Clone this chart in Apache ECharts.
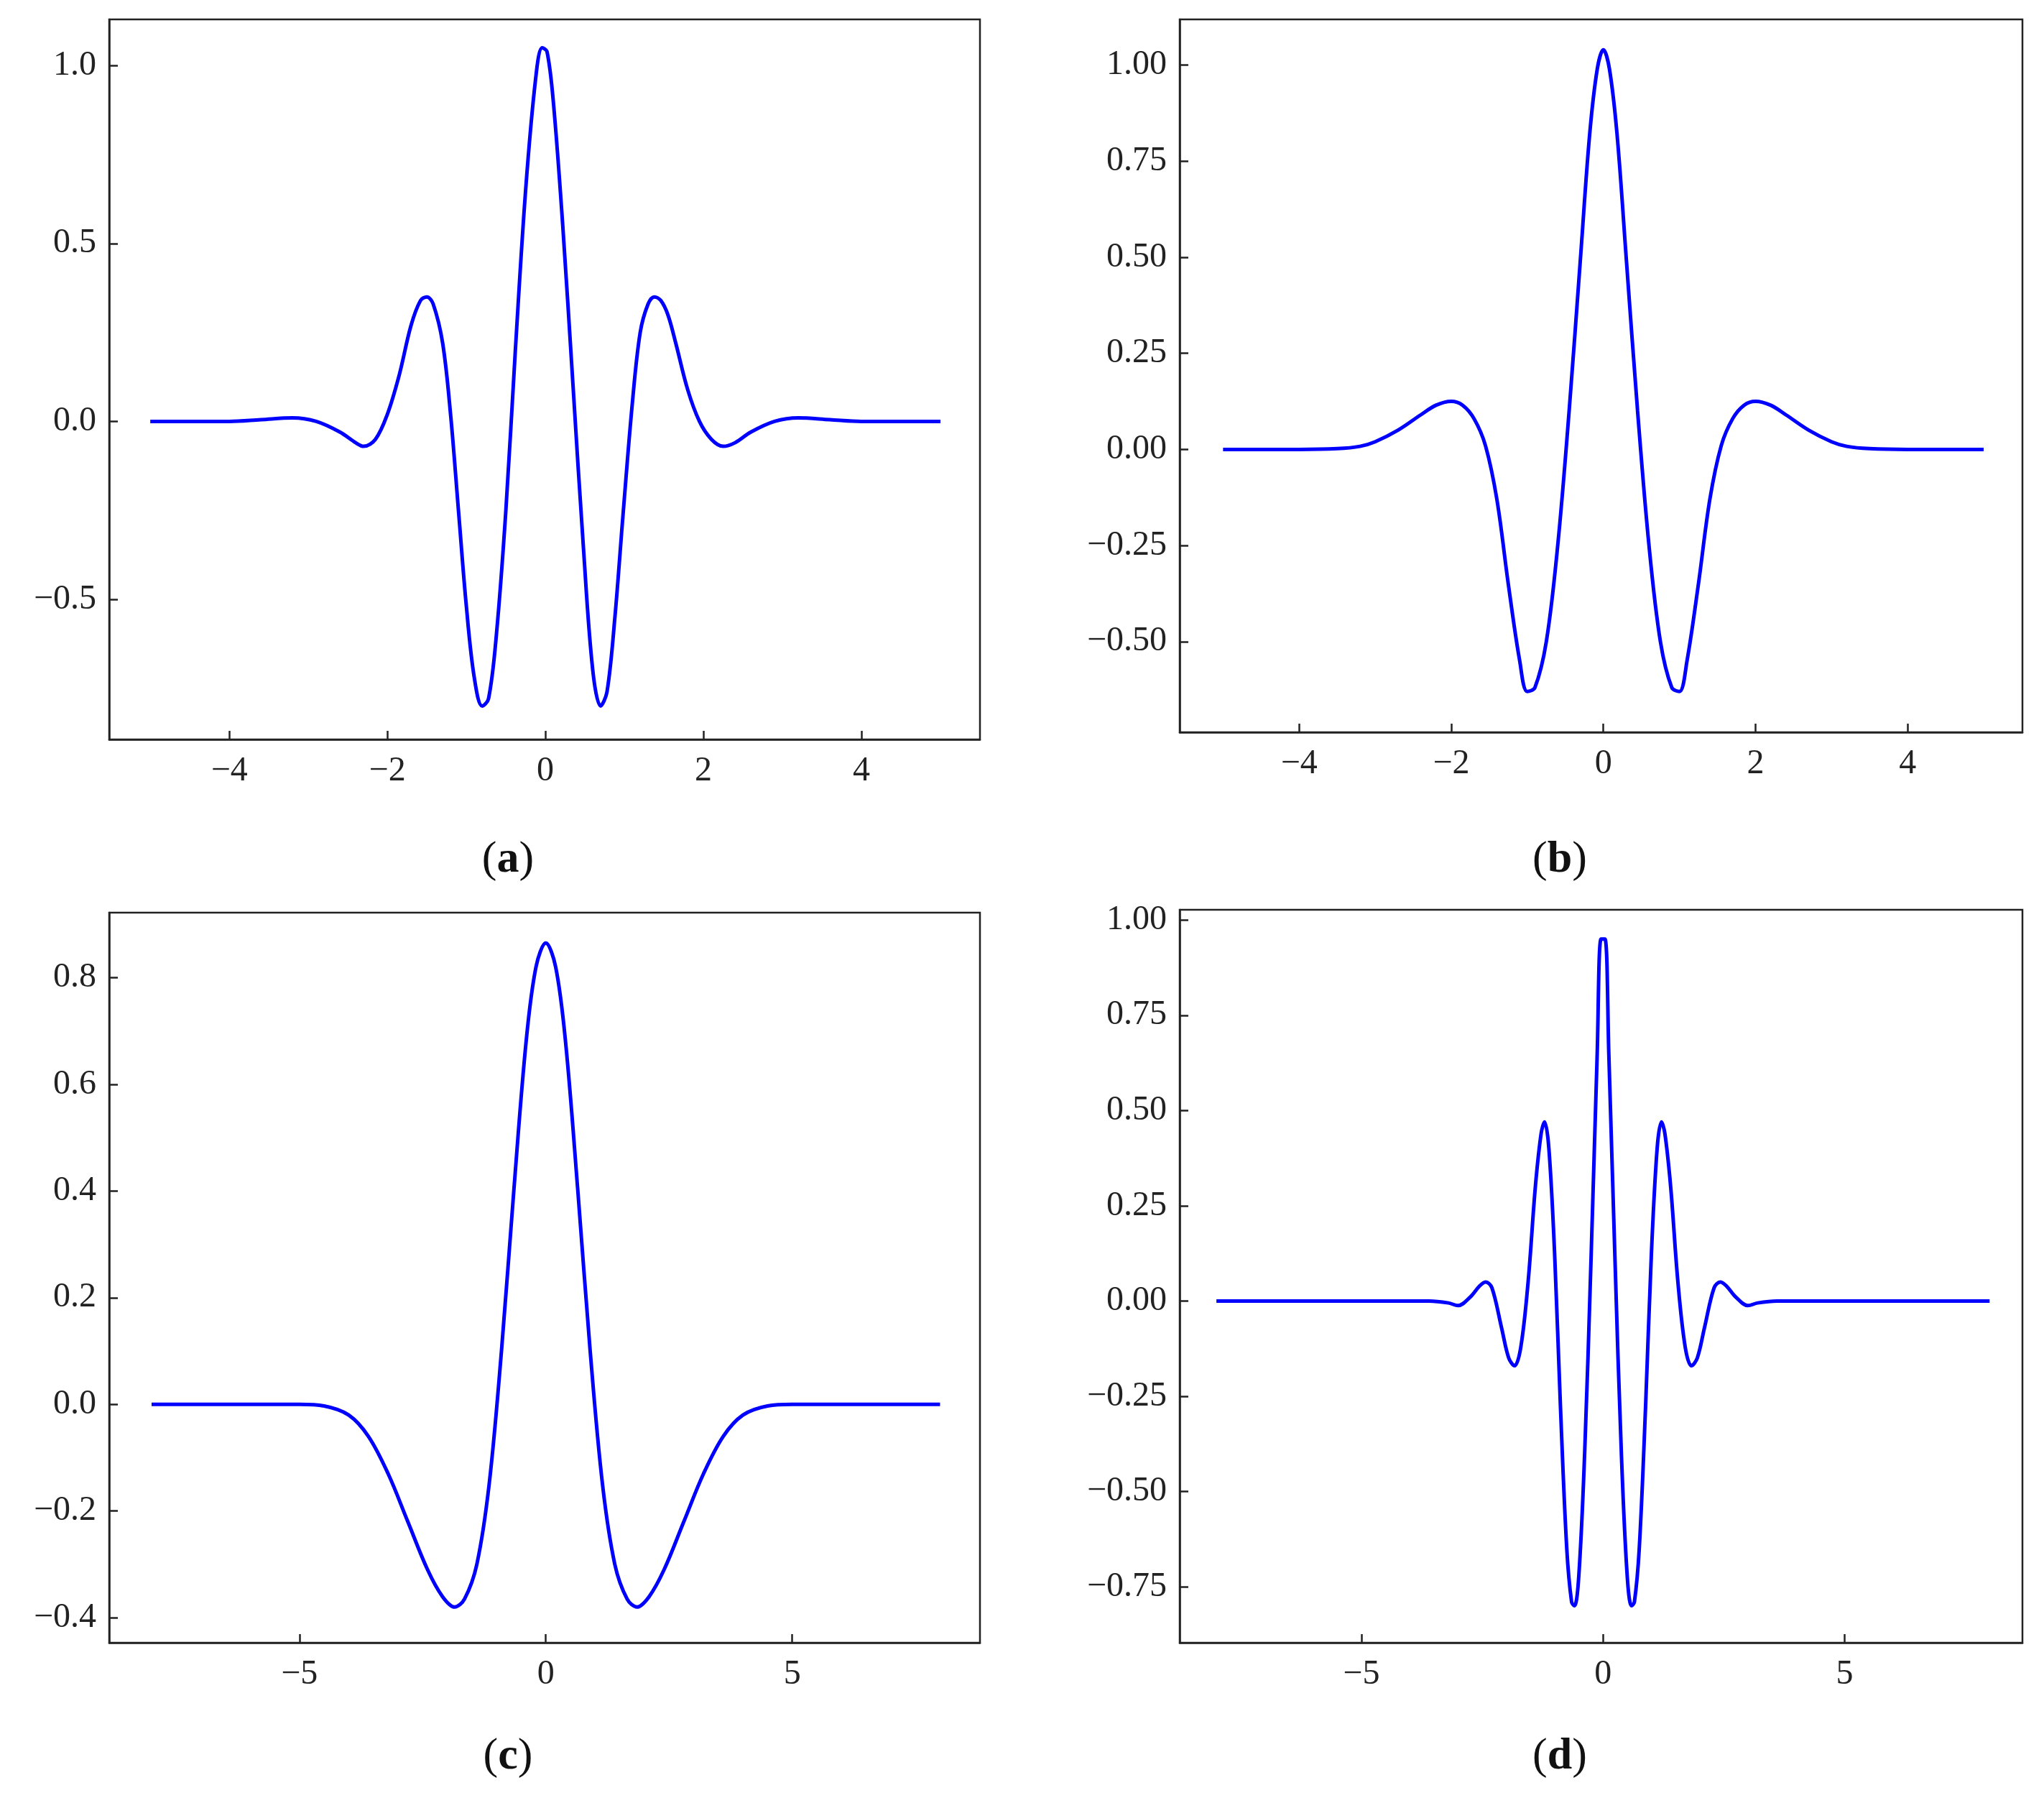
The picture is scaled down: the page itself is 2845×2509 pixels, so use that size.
<!DOCTYPE html>
<html><head><meta charset="utf-8">
<script src="https://cdn.jsdelivr.net/npm/echarts@6/dist/echarts.min.js"></script>
<style>html,body{margin:0;background:#fff}#c{width:2845px;height:2509px}</style>
</head><body><div id="c"></div>
<script>
// Panel (a)
const xA = [-5,-4,-3.6,-3.2,-2.9,-2.6,-2.4,-2.3,-2.15,-2.0,-1.85,-1.7,-1.58,-1.5,-1.42,-1.3,-1.2,-1.1,-1.0,-0.9,-0.8,-0.72,-0.62,-0.5,-0.38,-0.25,-0.12,-0.04,0.02,0.1,0.22,0.35,0.48,0.6,0.7,0.78,0.88,0.98,1.1,1.2,1.3,1.38,1.46,1.55,1.65,1.8,1.95,2.1,2.25,2.4,2.6,2.9,3.2,3.6,4,5];
const yA = [0,0,0.005,0.01,0.0,-0.03,-0.06,-0.07,-0.05,0.02,0.13,0.27,0.34,0.35,0.33,0.22,0.02,-0.25,-0.52,-0.72,-0.8,-0.78,-0.6,-0.25,0.2,0.65,0.97,1.05,1.04,0.9,0.55,0.1,-0.35,-0.7,-0.8,-0.76,-0.55,-0.27,0.05,0.25,0.33,0.35,0.34,0.3,0.22,0.09,0.0,-0.05,-0.07,-0.06,-0.03,0.0,0.01,0.005,0,0];
// Panel (b)
const xB = [-5,-4,-3.5,-3.2,-3.0,-2.7,-2.4,-2.2,-2.0,-1.85,-1.7,-1.55,-1.4,-1.25,-1.1,-1.0,-0.9,-0.75,-0.6,-0.45,-0.3,-0.18,-0.08,0,0.08,0.18,0.3,0.45,0.6,0.75,0.9,1.0,1.1,1.25,1.4,1.55,1.7,1.85,2.0,2.2,2.4,2.7,3.0,3.2,3.5,4,5];
const yB = [0,0,0.002,0.008,0.02,0.05,0.09,0.115,0.125,0.115,0.08,0.01,-0.13,-0.35,-0.55,-0.63,-0.62,-0.5,-0.25,0.1,0.5,0.82,0.99,1.04,0.99,0.82,0.5,0.1,-0.25,-0.5,-0.62,-0.63,-0.55,-0.35,-0.13,0.01,0.08,0.115,0.125,0.115,0.09,0.05,0.02,0.008,0.002,0,0];
// Panel (c)
const xC = [-8,-6,-5,-4.5,-4.0,-3.6,-3.2,-2.8,-2.4,-2.1,-1.85,-1.65,-1.4,-1.15,-0.9,-0.65,-0.4,-0.2,0,0.2,0.4,0.65,0.9,1.15,1.4,1.65,1.85,2.1,2.4,2.8,3.2,3.6,4.0,4.5,5,6,8];
const yC = [0,0,0,-0.003,-0.02,-0.06,-0.13,-0.22,-0.31,-0.36,-0.38,-0.365,-0.3,-0.15,0.1,0.4,0.68,0.82,0.865,0.82,0.68,0.4,0.1,-0.15,-0.3,-0.365,-0.38,-0.36,-0.31,-0.22,-0.13,-0.06,-0.02,-0.003,0,0,0];
// Panel (d)
const xD = [-8,-5,-3.6,-3.2,-3.0,-2.75,-2.55,-2.43,-2.3,-2.1,-1.95,-1.83,-1.7,-1.55,-1.4,-1.28,-1.21,-1.12,-1.0,-0.88,-0.75,-0.65,-0.59,-0.5,-0.38,-0.25,-0.12,-0.04,0.04,0.12,0.25,0.38,0.5,0.59,0.65,0.75,0.88,1.0,1.12,1.21,1.28,1.4,1.55,1.7,1.83,1.95,2.1,2.3,2.43,2.55,2.75,3.0,3.2,3.6,5,8];
const yD = [0,0,0,-0.005,-0.012,0.01,0.04,0.05,0.035,-0.07,-0.15,-0.17,-0.12,0.05,0.3,0.44,0.47,0.4,0.12,-0.28,-0.65,-0.79,-0.8,-0.72,-0.4,0.1,0.65,0.95,0.95,0.65,0.1,-0.4,-0.72,-0.8,-0.79,-0.65,-0.28,0.12,0.4,0.47,0.44,0.3,0.05,-0.12,-0.17,-0.15,-0.07,0.035,0.05,0.04,0.01,-0.012,-0.005,0,0,0];
// Tick labels
const xTicksAB = [-4,-2,0,2,4];
const xTicksCD = [-5,0,5];
const yTicksA = [-0.5,0.0,0.5,1.0];
const yTicksB = [-0.5,-0.25,0,0.25,0.5,0.75,1.0];
const yTicksC = [-0.4,-0.2,0,0.2,0.4,0.6,0.8];
const yTicksD = [-0.75,-0.5,-0.25,0,0.25,0.5,0.75,1.0];
const panelLabels = ['a','b','c','d'];

const grids = [
  {left:152,top:27,width:1212,height:1002},
  {left:1642,top:27,width:1173,height:992},
  {left:152,top:1270,width:1212,height:1016},
  {left:1642,top:1266,width:1173,height:1020}
];
const xr = [[-5.52,5.5],[-5.57,5.51],[-8.86,8.81],[-8.76,8.68]];
const yr = [[-0.894,1.13],[-0.736,1.119],[-0.447,0.922],[-0.897,1.027]];
const xt = [xTicksAB,xTicksAB,xTicksCD,xTicksCD];
const yt = [yTicksA,yTicksB,yTicksC,yTicksD];
const ydec = [1,2,1,2];
const data = [[xA,yA],[xB,yB],[xC,yC],[xD,yD]];
const font = 'Liberation Serif';
const minus = s => s.replace('-', '\u2212');
const labelPos = [[707,1197],[2171,1197],[707,2445],[2171,2445]];
const axisCommon = {axisLine:{show:true,onZero:false,lineStyle:{color:'#222',width:2.5}},splitLine:{show:false}};

const option = {
  backgroundColor:'#fff', animation:false,
  grid: grids.map(g=>Object.assign({show:true,borderColor:'#222',borderWidth:2.5,backgroundColor:'transparent'},g)),
  xAxis: grids.map((g,i)=>Object.assign({type:'value',gridIndex:i,position:'bottom',min:xr[i][0],max:xr[i][1],
    axisTick:{show:true,inside:true,length:12,lineStyle:{color:'#222',width:2.5},customValues:xt[i]},
    axisLabel:{customValues:xt[i],fontFamily:font,fontSize:48,color:'#222',margin:20,formatter:v=>minus(String(Math.round(v)))}},axisCommon)),
  yAxis: grids.map((g,i)=>Object.assign({type:'value',gridIndex:i,position:'left',min:yr[i][0],max:yr[i][1],
    axisTick:{show:true,inside:true,length:12,lineStyle:{color:'#222',width:2.5},customValues:yt[i]},
    axisLabel:{customValues:yt[i],fontFamily:font,fontSize:48,color:'#222',margin:18,formatter:v=>minus(v.toFixed(ydec[i]))}},axisCommon)),
  series: data.map((d,i)=>({type:'line',xAxisIndex:i,yAxisIndex:i,showSymbol:false,smooth:0.35,
    lineStyle:{color:'#0000ff',width:5},data:d[0].map((x,k)=>[x,d[1][k]])})),
  graphic: panelLabels.map((l,i)=>({type:'text',x:labelPos[i][0],y:labelPos[i][1],
    style:{text:'{n|(}{b|'+l+'}{n|)}',align:'center',verticalAlign:'middle',
      rich:{n:{fontFamily:font,fontSize:62,fontWeight:'normal',fill:'#111'},b:{fontFamily:font,fontSize:62,fontWeight:'bold',fill:'#111'}}}}))
};
const chart = echarts.init(document.getElementById('c'),null,{renderer:'canvas'});
chart.setOption(option);
</script></body></html>
